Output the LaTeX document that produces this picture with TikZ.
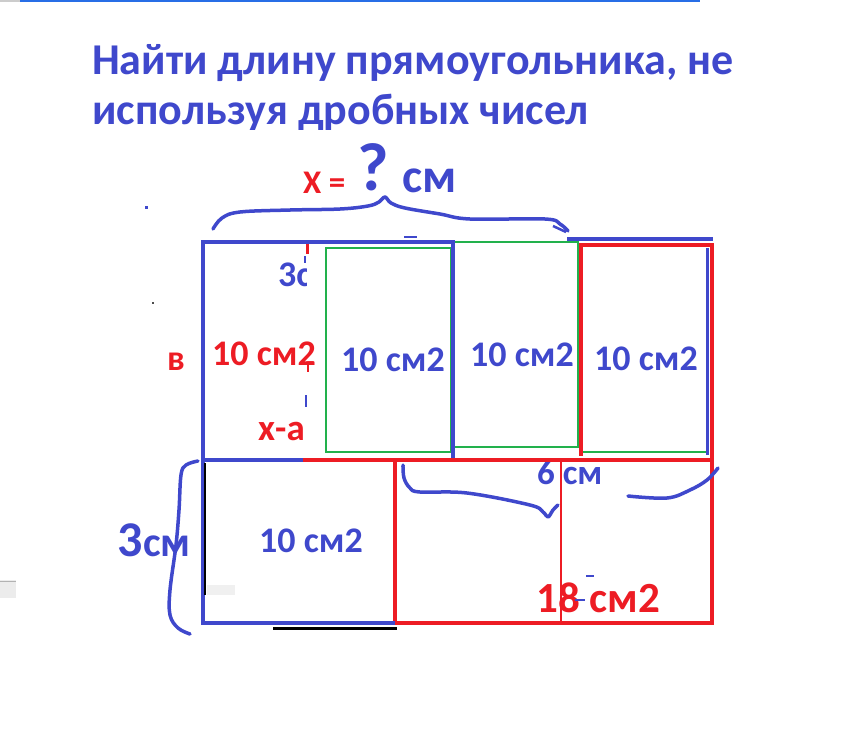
\documentclass[tikz,border=0pt]{standalone}
\usepackage{fontspec}
\setmainfont{Carlito}
\definecolor{myblue}{RGB}{63,72,204}
\definecolor{myred}{RGB}{237,28,36}
\definecolor{mygreen}{RGB}{34,177,76}
\definecolor{topblue}{RGB}{40,110,230}
\newcommand{\fs}[1]{\fontsize{#1}{#1}\selectfont\bfseries}
\tikzset{
  lbl/.style={inner sep=0pt, text=myblue, font=\fs{36}},
  rlbl/.style={inner sep=0pt, text=myred, font=\fs{36}},
  bline/.style={draw=myblue, line width=4pt},
  rline/.style={draw=myred, line width=4.5pt},
  gline/.style={draw=mygreen, line width=2pt},
  brace/.style={draw=myblue, line width=3.5pt, line cap=round, line join=round},
  frag/.style={line width=2pt},
}
\begin{document}
\begin{tikzpicture}[x=1pt,y=-1pt]
\useasboundingbox (0,0) rectangle (867,729);
\fill[white] (0,0) rectangle (867,729);
% top thin line and grey bits
\draw[topblue, line width=1.5pt] (0,1) -- (700,1);
\fill[gray!40] (0,0) rectangle (20,2);
\fill[gray!15] (0,580) rectangle (16,598);
\draw[gray!60, line width=1pt] (0,581) -- (16,581);
% title
\node[anchor=base west, inner sep=0pt, text=myblue, font=\fs{44}] (t1) at (92,74) {Найти длину прямоугольника, не};
\begin{scope}
\clip (0,0) rectangle (867,129);
\node[anchor=base west, inner sep=0pt, text=myblue, font=\fs{44}] (t2) at (92,124) {используя дробных чисел};
\end{scope}
% heading
\node[anchor=base west, inner sep=0pt, text=myred, font=\fs{33}] (hx) at (303,193) {Х =};
\node[anchor=base west, inner sep=0pt, text=myblue, font=\fs{68}] (hq) at (357,190) {?};
\node[anchor=base west, inner sep=0pt, text=myblue, font=\fs{48}] (hcm) at (402,192) {см};
% top brace
\draw[brace] plot[smooth, tension=0.6] coordinates {(213,229) (222,218) (240,212) (290,210) (340,209) (368,206) (379,202) (385,197) (391,203) (405,208) (440,214) (470,219) (545,219) (560,224) (568,231)};
% dots
\fill[myblue] (145,206) rectangle (148,209);
\fill[black!70] (152,302) rectangle (154,304);
\draw[myblue, line width=2pt] (404,237) -- (417,237);
\draw[myblue, line width=2.5pt] (553,226) -- (566,232);
% label under the red line
\node[anchor=base west, inner sep=0pt, text=myblue, font=\fs{35}] (l6) at (537,484) {6 см};
% green rectangles
\draw[gline] (326,248) rectangle (451,452);
\draw[gline] (454,242) rectangle (578,447);
% upper-left blue rectangle
\draw[bline] (201,242) -- (455,242);
\draw[bline] (453,242) -- (453,460);
\draw[bline] (203,242) -- (203,625);
\draw[bline] (201,460) -- (303,460);
% top right
\draw[bline] (567,239) -- (713,239);
\draw[gline] (583,452) -- (709,452);
\draw[draw=myblue, line width=3pt] (707,248) -- (707,455);
\draw[rline] (581,245) -- (713,245);
\draw[rline] (581,243) -- (581,456);
\draw[rline] (712,243) -- (712,625);
\draw[rline] (303,460) -- (712,460);
% bottom
\draw[rline] (395,460) -- (395,625);
\draw[rline] (393,623) -- (714,623);
\draw[bline] (201,623) -- (395,623);
\draw[myred, line width=1.8pt] (561,462) -- (561,623);
\draw[black, line width=2pt] (205,463) -- (205,595);
\fill[gray!12] (207,585) rectangle (235,595);
\draw[black, line width=3pt] (273,628) -- (397,628);
% fragments
\draw[myred, frag, line width=3pt] (307,244) -- (307,254);
\draw[myred, frag] (308,363) -- (308,372);
\draw[myblue, frag] (306,395) -- (306,407);
\draw[myblue, frag] (305,256) -- (305,263);
% left brace
\draw[brace] plot[smooth, tension=0.6] coordinates {(198,461) (186,465) (181,475) (179,510) (176,545) (170,590) (170,615) (178,628) (190,634)};
% bottom brace
\draw[brace] plot[smooth, tension=0.6] coordinates {(403,465) (404,478) (410,488) (420,492) (467,493) (530,505) (543,512) (548,517) (553,510) (558,505)};
\draw[brace] plot[smooth, tension=0.6] coordinates {(628,496) (667,498) (690,490) (707,480) (718,468)};
% labels
\node[rlbl] (lb) at (176,362) {в};
\node[rlbl] (l0) at (264,354) {10 см2};
\node[anchor=base west, inner sep=0pt, text=myred, font=\fs{37}] (lxa) at (258,440) {х-а};
\begin{scope}
\clip (270,250) rectangle (306,300);
\node[anchor=base west, lbl] (l3c) at (278,286) {3см};
\end{scope}
\node[lbl] (l1) at (393,360) {10 см2};
\node[lbl] (l2) at (522,355) {10 см2};
\node[lbl] (l3) at (646,359) {10 см2};
\node[lbl] (l4) at (311,541) {10 см2};
\node[anchor=base west, inner sep=0pt, text=myred, font=\fs{43}] (l18) at (536,612) {18 см2};
\draw[myblue, line width=1.5pt] (586,576) -- (594,576);
\draw[myblue, line width=1.5pt] (575,600) -- (585,600);
\node[anchor=base west, inner sep=0pt, text=myblue, font=\fs{50}] (l3a) at (117,556) {3};
\node[anchor=base west, inner sep=0pt, text=myblue, font=\fs{42}] (l3b) at (143,556) {см};
\end{tikzpicture}
\end{document}
